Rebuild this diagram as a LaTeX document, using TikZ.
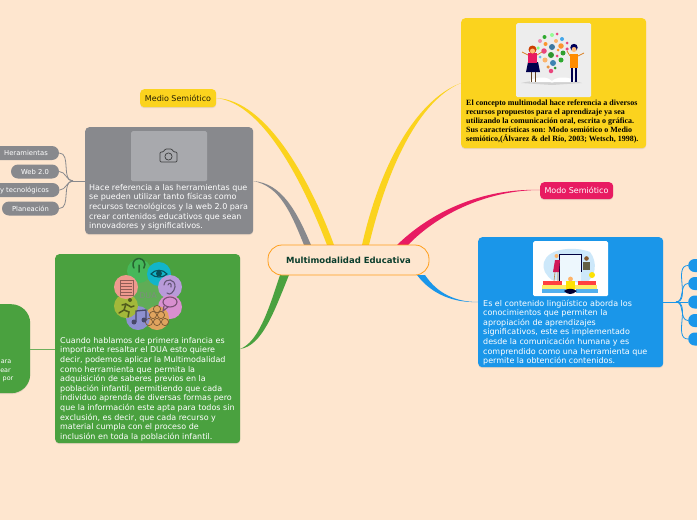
\documentclass[tikz,border=0pt]{standalone}
\usepackage{fontspec}
\setmainfont{DejaVu Sans}
\newfontfamily\serifcard{Liberation Serif}
\usetikzlibrary{shadows}
\definecolor{paper}{HTML}{FEE6CF}
\definecolor{sun}{HTML}{FBD31E}
\definecolor{slate}{HTML}{88898D}
\definecolor{slatelight}{HTML}{A8A9AD}
\definecolor{leaf}{HTML}{4AA13F}
\definecolor{rose}{HTML}{E81B62}
\definecolor{sky}{HTML}{1A96E9}
\definecolor{ink}{HTML}{0A3D2C}
\definecolor{amber}{HTML}{FF9F1C}
\definecolor{ballpower}{HTML}{46B85A}
\definecolor{balleye}{HTML}{12B5C9}
\definecolor{ballear}{HTML}{B89AD9}
\definecolor{ballspeech}{HTML}{D88FD0}
\definecolor{ballcubes}{HTML}{E0A45E}
\definecolor{ballmusic}{HTML}{8E90D0}
\definecolor{ballrunner}{HTML}{A3B83A}
\definecolor{ballgrid}{HTML}{EE9A8E}
\tikzset{
  card/.style={rectangle,rounded corners=4pt,inner sep=0pt,anchor=north west,drop shadow={opacity=.18,shadow xshift=0pt,shadow yshift=-1pt}},
  cardtext/.style={anchor=north west,inner sep=0pt,align=left,text=white,font=\fontsize{8}{9.6}\selectfont},
  tag/.style={rectangle,rounded corners=7pt,fill=slate,inner sep=0pt,minimum height=14pt,text=white,font=\fontsize{6.8}{8}\selectfont},
  dot/.style={rectangle,rounded corners=6.5pt,fill=sky,inner sep=0pt,minimum height=13pt,minimum width=24pt,anchor=west},
  photo/.style={rectangle,rounded corners=1.5pt,inner sep=0pt,anchor=north west},
  ball/.style={circle,inner sep=0pt,minimum size=24pt,draw=none},
  glyph/.style={line width=1.1pt,line cap=round},
  clipped/.style={anchor=east,inner sep=0pt,text=white,font=\fontsize{6.4}{8}\selectfont},
}
\begin{document}
\begin{tikzpicture}[x=1pt,y=-1pt]
  \useasboundingbox[fill=paper] (0,0) rectangle (697,520);

  \coordinate (hubgray) at (73,181);
  \coordinate (hubsky) at (676,302);

  \fill[sun] (216,98) .. controls (268,100) and (312,185) .. (334,245) -- (327,245) .. controls (306,190) and (265,103) .. (216,98);
  \fill[sun] (461,83) .. controls (420,100) and (388,165) .. (369,245) -- (362,245) .. controls (380,165) and (416,100) .. (461,83);
  \fill[slate] (253,181) .. controls (282,183) and (297,212) .. (311,245) -- (304,245) .. controls (291,213) and (280,186) .. (253,181);
  \fill[leaf] (240,349) .. controls (262,346) and (274,312) .. (289,275) -- (280,275) .. controls (268,312) and (258,342) .. (240,349);
  \fill[rose] (540,190) .. controls (490,190) and (440,212) .. (408,245) -- (397,245) .. controls (435,208) and (488,188) .. (540,190);
  \fill[sky] (478,302) .. controls (455,302) and (437,293) .. (425,275) -- (417,275) .. controls (432,295) and (455,303) .. (478,302);

  \begin{scope}
    \node[card,fill=slate,minimum width=168pt,minimum height=107pt] (gray) at (85,127) {};
    \node[card,fill=leaf,minimum width=185pt,minimum height=189pt] (green) at (55,254) {};
    \node[card,fill=sun,minimum width=185pt,minimum height=130pt] (yellow) at (461,18) {};
    \node[card,fill=sky,minimum width=185pt,minimum height=130pt] (blue) at (478,237) {};
    \node[card,fill=leaf,rounded corners=19pt,minimum width=60pt,minimum height=89pt] (leftgreen) at (-30,304) {};
    \node[card,fill=sun,minimum width=76pt,minimum height=18pt] (medio) at (140,89) {};
    \node[card,fill=rose,minimum width=73pt,minimum height=17pt] (modo) at (540,182) {};
    \node[rectangle,rounded corners=14pt,fill=paper,draw=amber,line width=.8pt,minimum width=161pt,minimum height=30pt,inner sep=0pt,font=\fontsize{8.5}{10}\selectfont\bfseries,text=ink] (root) at (348.5,260) {Multimodalidad Educativa};
  \end{scope}

  \node[font=\fontsize{8}{10}\selectfont,text=black!85!sun] (mediolabel) at (178,98.5) {Medio Semiótico};
  \node[font=\fontsize{8}{10}\selectfont,text=white] (modolabel) at (576.5,190.5) {Modo Semiótico};

  \node[tag,minimum width=66pt] (t1) at (26,153) {Heramientas};
  \node[tag,minimum width=48pt] (t2) at (35,171.5) {Web 2.0};
  \node[tag,minimum width=70pt] (t3) at (24.5,190) {y tecnológicos};
  \node[tag,minimum width=57pt] (t4) at (30.5,208.5) {Planeación};

  \node[dot] (d1) at (688,265.5) {};
  \node[dot] (d2) at (688,283.5) {};
  \node[dot] (d3) at (688,302) {};
  \node[dot] (d4) at (688,320.5) {};
  \node[dot] (d5) at (688,339) {};

  \begin{scope}[every edge/.style={draw=slate,line width=.8pt}]
    \path (gray.west |- hubgray) edge (hubgray);
    \path (hubgray) edge[out=180,in=0] (t1.east);
    \path (hubgray) edge[out=180,in=0] (t2.east);
    \path (hubgray) edge[out=180,in=0] (t3.east);
    \path (hubgray) edge[out=180,in=0] (t4.east);
  \end{scope}
  \begin{scope}[every edge/.style={draw=sky,line width=.8pt}]
    \path (blue.east |- hubsky) edge (hubsky);
    \path (hubsky) edge[out=0,in=180] (d1.west);
    \path (hubsky) edge[out=0,in=180] (d2.west);
    \path (hubsky) edge (d3.west);
    \path (hubsky) edge[out=0,in=180] (d4.west);
    \path (hubsky) edge[out=0,in=180] (d5.west);
  \end{scope}
  \draw[leaf!80!paper,line width=.8pt] (leftgreen.east |- 30,349) -- (green.west |- 30,349);

  \node[cardtext] (graytext) at (89,184) {Hace referencia a las herramientas que\\se pueden utilizar tanto físicas como\\recursos tecnológicos y la web 2.0 para\\crear contenidos educativos que sean\\innovadores y significativos.};
  \node[cardtext] (greentext) at (60,337) {Cuando hablamos de primera infancia es\\importante resaltar el DUA esto quiere\\decir, podemos aplicar la Multimodalidad\\como herramienta que permita la\\adquisición de saberes previos en la\\población infantil, permitiendo que cada\\individuo aprenda de diversas formas pero\\que la información este apta para todos sin\\exclusión, es decir, que cada recurso y\\material cumpla con el proceso de\\inclusión en toda la población infantil.};
  \node[cardtext] (bluetext) at (483,299.5) {Es el contenido lingüístico aborda los\\conocimientos que permiten la\\apropiación de aprendizajes\\significativos, este es implementado\\desde la comunicación humana y es\\comprendido como una herramienta que\\permite la obtención contenidos.};
  \node[cardtext,text=black,font=\fontsize{8}{9}\selectfont\serifcard\bfseries] (yellowtext) at (466,100) {El concepto multimodal hace referencia a diversos\\recursos propuestos para el aprendizaje ya sea\\utilizando la comunicación oral, escrita o gráfica.\\Sus características son: Modo semiótico o Medio\\semiótico,(Álvarez \& del Río, 2003; Wetsch, 1998).};
  \node[clipped] (lefttext1) at (11.5,362) {ara};
  \node[clipped] (lefttext2) at (11,371) {ear};
  \node[clipped] (lefttext3) at (13.5,379.5) {por};

  \node[photo,fill=slatelight,minimum width=76pt,minimum height=50pt] (grayphoto) at (131,131) {};
  \draw[slate!45!black,line width=.7pt,rounded corners=1.2pt] (160,162) -- (160,152) -- (163.5,152) -- (165,149) -- (172,149) -- (173.5,152) -- (177,152) -- (177,162) -- cycle;
  \draw[slate!45!black,line width=.7pt] (168.5,156.5) circle (3.6pt);

  \node[photo,fill=white!93!black,minimum width=75pt,minimum height=74pt] (yellowphoto) at (516,23) {};
  \begin{scope}[every node/.style={circle,inner sep=0pt,minimum size=4pt,opacity=.8}]
    \node[fill=green!60!black] (a1) at (544.5,37) {};
    \node[fill=green!50] (a2) at (552,35) {};
    \node[fill=rose,minimum size=3pt] (a3) at (557,34) {};
    \node[fill=rose!60] (a4) at (540,41) {};
    \node[fill=orange] (a5) at (545.5,44) {};
    \node[fill=orange!70] (a6) at (556,41) {};
    \node[fill=sky] (a7) at (562,39) {};
    \node[fill=sky!60!black,minimum size=6pt] (a8) at (552,47) {};
    \node[fill=orange,minimum size=5.5pt] (a9) at (561,46) {};
    \node[fill=rose,minimum size=3pt] (a10) at (567,43) {};
    \node[fill=green!60,minimum size=3.5pt] (a11) at (538,48) {};
    \node[fill=rose,minimum size=5.5pt] (a12) at (544,51) {};
    \node[fill=green!50!black,minimum size=6pt] (a13) at (551,55) {};
    \node[fill=orange,minimum size=3pt] (a14) at (558,50) {};
    \node[fill=green!55!black,minimum size=5pt] (a15) at (563,53) {};
    \node[fill=rose,minimum size=3.5pt] (a16) at (567,49) {};
    \node[fill=sky!80,minimum size=3pt] (a17) at (540,57) {};
    \node[fill=orange!70,minimum size=5pt] (a18) at (545,60) {};
    \node[fill=sky!70!black,minimum size=6pt] (a19) at (553,63) {};
    \node[fill=green!60!black,minimum size=5pt] (a20) at (561,60) {};
    \node[fill=rose,minimum size=3pt] (a21) at (557,56) {};
    \node[fill=orange!60!brown,minimum size=3.5pt] (a22) at (548,67) {};
    \node[fill=rose,minimum size=4.5pt] (a23) at (551,71) {};
    \node[fill=green!50!black,minimum size=3pt] (a24) at (555,68) {};
  \end{scope}
  \fill[black!18] (521,83) .. controls (535,80) and (545,79) .. (552,83) .. controls (560,79) and (572,80) .. (582,83) -- (552,85) -- cycle;
  \fill[white] (530,80) .. controls (540,76) and (548,77) .. (552,81) .. controls (556,77) and (566,76) .. (574,80) -- (574,82) -- (530,82) -- cycle;
  \draw[brown!50!black,line width=.9pt] (531,70) -- (531,82) (535,70) -- (535,82);
  \fill[black!70!blue] (528,62) -- (538,62) -- (540,72) -- (526,72) -- cycle;
  \fill[rose] (528,53) rectangle (537,63);
  \fill[orange!60!red!80!black] (532.5,49.5) circle (4pt);
  \fill[orange!40!paper] (532.5,51) circle (2.5pt);
  \draw[orange!40!brown,line width=.7pt] (522,52) -- (528,55) (537,55) -- (542,52);
  \draw[black!70!blue,line width=1.3pt] (572,68) -- (572,82) (576,68) -- (576,82);
  \fill[orange!90!yellow] (570,54) rectangle (578,68);
  \fill[black!65!blue] (574,47.5) circle (3.7pt);
  \fill[orange!40!paper] (574,49.5) circle (2.5pt);
  \draw[orange!40!brown,line width=.7pt] (567,51) -- (570,56) (578,56) -- (584,53);

  \node[photo,fill=white,minimum width=75pt,minimum height=55pt] (bluephoto) at (533,241) {};
  \fill[sky!22] (544,262) .. controls (548,248) and (575,246) .. (590,252) .. controls (598,262) and (596,278) .. (585,283) -- (552,280) .. controls (546,275) and (542,270) .. (544,262) -- cycle;
  \fill[sky!8] (559,254) rectangle (581,281);
  \draw[black!75!blue,line width=1pt] (559,281) -- (559,254) -- (581,254) -- (581,272);
  \fill[rose!90!black] (555,260) -- (560,260) -- (559,272) -- (553,272) -- cycle;
  \fill[orange!50!paper] (556.5,256) circle (2pt);
  \draw[brown,line width=.6pt] (555,272) -- (554,281) (558,272) -- (558,281);
  \fill[black!70!yellow] (583,262) rectangle (590,270);
  \fill[brown!70!black] (586.5,258.5) circle (2.3pt);
  \fill[yellow!85!orange] (592,275) circle (3pt);
  \fill[red!75] (543,281) rectangle (562,285);
  \fill[red!75] (578,281) rectangle (596,285);
  \fill[yellow!50!paper] (542,285) rectangle (570,289);
  \fill[yellow!50!paper] (575,285) rectangle (597,289);
  \fill[sky!75] (542,289) rectangle (569,293);
  \fill[sky!75] (576,289) rectangle (598,293);
  \fill[yellow!85!orange] (566,281) rectangle (575,290);
  \fill[orange!50!paper] (570.5,279) circle (2.4pt);
  \fill[black!80!blue] (564,291) .. controls (568,288) and (572,288) .. (577,291) .. controls (572,295) and (568,295) .. (564,291) -- cycle;

  \fill[white!12!leaf] (148,296) circle (22pt);
  \node[font=\fontsize{8}{9}\selectfont,text=slate!80!leaf] (dua) at (148,296) {DUA};
  \node[ball,fill=ballpower] (power) at (139,271) {};
  \node[ball,fill=balleye] (eye) at (159,274) {};
  \node[ball,fill=ballear] (ear) at (170,287) {};
  \node[ball,fill=ballspeech] (speech) at (170,307) {};
  \node[ball,fill=ballcubes] (cubes) at (157,318) {};
  \node[ball,fill=ballmusic] (music) at (138,318) {};
  \node[ball,fill=ballrunner] (runner) at (126,306) {};
  \node[ball,fill=ballgrid] (grid) at (126,287) {};
  \draw[glyph,ballpower!55!black,line width=1.5pt] (139,265) -- (139,272) (134,268) arc (215:-35:6pt);
  \draw[glyph,balleye!45!black] (151,274) .. controls (155,269) and (163,269) .. (167,274) .. controls (163,278) and (155,278) .. (151,274) -- cycle;
  \fill[balleye!45!black] (159,273.5) circle (3pt);
  \draw[glyph,ballear!55!black] (167,293) .. controls (170,296) and (174,292) .. (175,287) .. controls (176,279) and (165,277) .. (164,285) (168,285) .. controls (169,282) and (172,283) .. (171,287);
  \draw[glyph,ballspeech!55!black] (170,302) ellipse (7pt and 5pt);
  \draw[glyph,ballspeech!55!black] (164,306) -- (163,311) -- (168,307);
  \foreach \cx/\cy in {153/315,161/315,157/322,149/322,165/322,157/309}
    \draw[ballcubes!55!black,line width=.7pt] (\cx,\cy) circle (3.6pt);
  \fill[ballmusic!50!black] (134,322) circle (2.5pt) (144,320) circle (2.5pt);
  \draw[ballmusic!50!black,line width=1.3pt] (136,322) -- (136,311) -- (146,310) -- (146,320);
  \fill[ballrunner!50!black] (130,300) circle (2pt);
  \draw[ballrunner!50!black,line width=1.5pt,line cap=round] (119,313) -- (124,310) -- (126,304) -- (131,307) -- (134,306) (126,304) -- (122,305) (124,310) -- (129,312) -- (128,317);
  \draw[ballgrid!60!black,line width=.4pt] (120,280) rectangle (133,295);
  \foreach \gy in {283,286,289,292}
    \draw[ballgrid!60!black,line width=.6pt] (121,\gy) -- (132,\gy);
\end{tikzpicture}
\end{document}
